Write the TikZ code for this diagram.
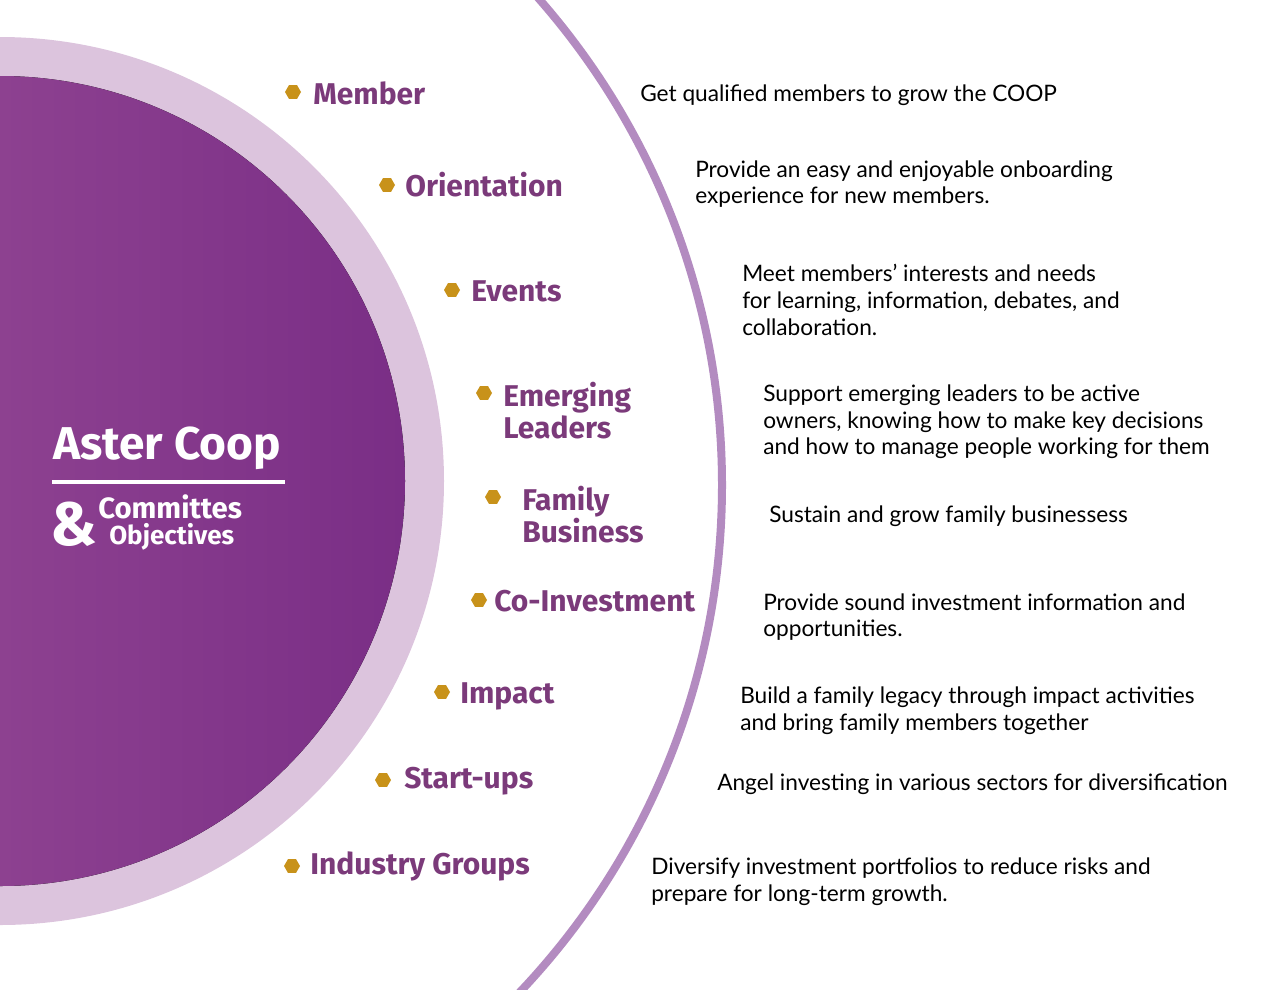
\documentclass[tikz,border=0pt]{standalone}
\usepackage{fontspec}
\setmainfont{Lato}
\newfontfamily\labfont{Fira Sans}
\usetikzlibrary{shapes.geometric}
\definecolor{lab}{HTML}{7B3A7A}
\definecolor{gold}{HTML}{C8921A}
\definecolor{lightc}{HTML}{DCC4DD}
\definecolor{arcc}{HTML}{B38BC0}
\definecolor{darkL}{HTML}{A0549A}
\definecolor{darkR}{HTML}{7A2E86}
\tikzset{
 lbl/.style={anchor=west,font=\labfont\bfseries\fontsize{22.5}{24}\selectfont,text=lab,align=left,inner sep=0pt},
 dsc/.style={anchor=west,font=\fontsize{17}{20}\selectfont,align=left,inner sep=0pt},
 hex/.style={regular polygon,regular polygon sides=6,fill=gold,minimum size=12pt,inner sep=0pt}
}
\begin{document}
\begin{tikzpicture}[x=0.75pt,y=-0.75pt]
\useasboundingbox (0,0) rectangle (1280,989);
\begin{scope}
\clip (0,0) rectangle (1280,989);
\fill[lightc] (0,481) circle (444);
\fill[left color=darkL,right color=darkR] (0,481) circle (405);
\draw[arcc,line width=6pt] (-15,485) circle (737);
\end{scope}
\node[anchor=west,text=white,font=\labfont\bfseries\fontsize{34.5}{34}\selectfont,inner sep=0pt] (t) at (53,448) {Aster Coop};
\draw[white,line width=3pt] (52,482) -- (285,482);
\node[anchor=west,text=white,font=\labfont\bfseries\fontsize{46}{46}\selectfont,inner sep=0pt] (amp) at (50,524) {\&};
\node[anchor=west,text=white,font=\labfont\bfseries\fontsize{22}{22}\selectfont,inner sep=0pt] (c) at (98,507) {Committes};
\node[anchor=west,text=white,font=\labfont\bfseries\fontsize{19.5}{20}\selectfont,inner sep=0pt] (o) at (109,537) {Objectives};
\foreach \n/\hx/\hy/\lx/\ly/\t/\dx/\dy/\d in {
 a/293/92/313/93/{Member}/640/95/{Get qualified members to grow the COOP},
 b/387/185/405/185/{Orientation}/695/184/{Provide an easy and enjoyable onboarding\\experience for new members.},
 c/452/290/471/291/{Events}/742/300/{Meet members' interests and needs\\for learning, information, debates, and\\collaboration.},
 d/484/393/503/411/{Emerging\\Leaders}/763/422/{Support emerging leaders to be active\\owners, knowing how to make key decisions\\and how to manage people working for them},
 e/493/497/522/515/{Family\\Business}/769/516/{Sustain and grow family businessess},
 f/479/600/494/601/{Co-Investment}/763/617/{Provide sound investment information and\\opportunities.},
 g/442/692/460/696/{Impact}/740/711/{Build a family legacy through impact activities\\and bring family members together},
 h/383/780/404/781/{Start-ups}/717/784/{Angel investing in various sectors for diversification},
 i/292/866/310/866/{Industry Groups}/651/882/{Diversify investment portfolios to reduce risks and\\prepare for long-term growth.}}{
 \node[hex] (h\n) at (\hx,\hy) {};
 \node[lbl] (l\n) at (\lx,\ly) {\t};
 \node[dsc] (d\n) at (\dx,\dy) {\d};
}
\end{tikzpicture}
\end{document}
